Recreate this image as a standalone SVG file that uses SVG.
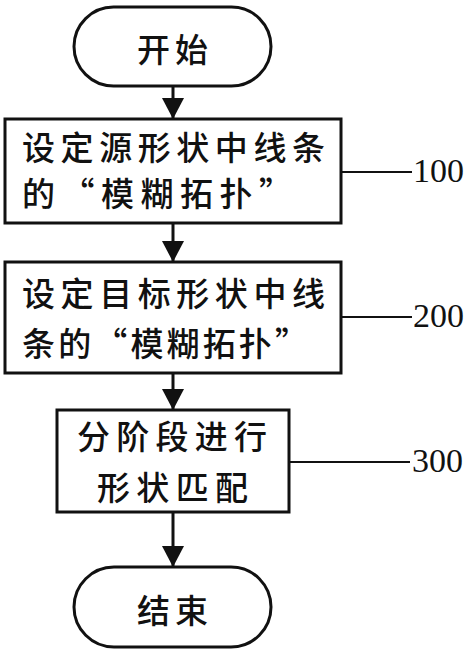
<svg xmlns="http://www.w3.org/2000/svg" width="474" height="654" viewBox="0 0 474 654">
<style>
.shape{fill:#fff;stroke:#111;stroke-width:3}
.conn{stroke:#111;stroke-width:3;fill:none}
.lead{stroke:#111;stroke-width:2;fill:none}
.t{font-family:"Noto Sans CJK SC","Noto Sans CJK JP",sans-serif;font-size:33px;font-weight:500;fill:#111}
.n{font-family:"Liberation Serif",serif;font-size:34px;fill:#111}
</style>
<defs>
<marker id="ah" markerUnits="userSpaceOnUse" markerWidth="22" markerHeight="22" viewBox="0 0 22 22" refX="21" refY="11" orient="auto">
<path d="M0,0 L21,11 L0,22 Z" fill="#111"/>
</marker>
</defs>
<g id="connectors">
<line class="conn" x1="173" y1="86" x2="173" y2="119" marker-end="url(#ah)"/>
<line class="conn" x1="173" y1="223" x2="173" y2="262" marker-end="url(#ah)"/>
<line class="conn" x1="173" y1="373" x2="173" y2="410" marker-end="url(#ah)"/>
<line class="conn" x1="173" y1="512" x2="173" y2="567" marker-end="url(#ah)"/>
<line class="lead" x1="341" y1="172" x2="412" y2="172"/>
<line class="lead" x1="341" y1="317" x2="412" y2="317"/>
<line class="lead" x1="289" y1="462" x2="410" y2="462"/>
</g>
<g id="start">
<rect class="shape" x="74" y="7" width="197" height="79" rx="39.5" ry="39.5"/>
<text class="t" x="137" y="62" font-size="35" textLength="71" lengthAdjust="spacing">开始</text>
</g>
<g id="step100">
<rect class="shape" x="5" y="119" width="336" height="104"/>
<text class="t" x="22" y="160" textLength="303" lengthAdjust="spacing">设定源形状中线条</text>
<text class="t" x="22" y="206" textLength="270" lengthAdjust="spacing">的“模糊拓扑”</text>
<text class="n" x="413" y="182">100</text>
</g>
<g id="step200">
<rect class="shape" x="5" y="262" width="336" height="111"/>
<text class="t" x="22" y="306" textLength="303" lengthAdjust="spacing">设定目标形状中线</text>
<text class="t" x="22" y="356" textLength="286" lengthAdjust="spacing">条的“模糊拓扑”</text>
<text class="n" x="413" y="327">200</text>
</g>
<g id="step300">
<rect class="shape" x="57" y="410" width="232" height="102"/>
<text class="t" x="77" y="449" textLength="190" lengthAdjust="spacing">分阶段进行</text>
<text class="t" x="97" y="500" textLength="151" lengthAdjust="spacing">形状匹配</text>
<text class="n" x="412" y="472">300</text>
</g>
<g id="end">
<rect class="shape" x="74" y="567" width="197" height="80" rx="40" ry="40"/>
<text class="t" x="137" y="623" font-size="35" textLength="71" lengthAdjust="spacing">结束</text>
</g>
</svg>
